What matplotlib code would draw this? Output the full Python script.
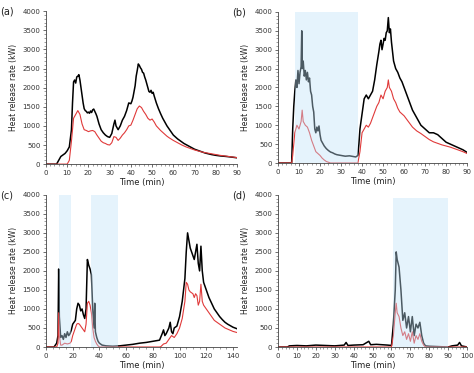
import matplotlib
matplotlib.use("Agg")
import matplotlib.pyplot as plt
from matplotlib.ticker import MultipleLocator, AutoMinorLocator

# (a) tiempo y HRR
ta_negro = [0, 5, 6, 7, 8, 9, 10, 11, 12, 12.5, 13, 13.5, 14, 14.5, 15, 15.5, 16, 16.5, 17, 17.5, 18, 18.5, 19,
            19.5, 20, 20.5, 21, 21.5, 22, 22.5, 23, 23.5, 24, 25, 26, 27, 28, 29, 30, 31, 32, 32.5, 33, 34, 35, 36,
            37, 38, 39, 40, 40.5, 41, 41.5, 42, 42.5, 43, 43.5, 44, 44.5, 45, 45.5, 46, 46.5, 47, 47.5, 48, 48.5,
            49, 49.5, 50, 50.5, 51, 52, 53, 54, 55, 56, 57, 58, 60, 62, 65, 68, 70, 72, 75, 78, 80, 82, 85, 88, 90]
a_negro = [0, 0, 100, 200, 240, 280, 350, 450, 900, 1600, 2150, 2200, 2120, 2280, 2300, 2340, 2200, 2000, 1800, 1600,
           1450, 1400, 1380, 1340, 1360, 1330, 1390, 1350, 1420, 1440, 1380, 1320, 1250, 1050, 900, 820, 760, 720,
           700, 800, 1050, 1150, 1000, 900, 1000, 1150, 1250, 1400, 1600, 1580, 1650, 1750, 1900, 2050, 2300, 2450,
           2620, 2580, 2520, 2480, 2400, 2380, 2280, 2200, 2100, 2000, 1900, 1880, 1930, 1850, 1880, 1780, 1600,
           1450, 1320, 1200, 1100, 1000, 920, 760, 660, 540, 450, 390, 350, 290, 250, 230, 215, 200, 180, 165]
ta_rojo = [0, 10, 11, 12, 13, 14, 15, 16, 17, 18, 19, 20, 21, 22, 23, 24, 25, 26, 27, 28, 29, 30, 31, 32, 33, 34, 35,
           36, 37, 38, 39, 40, 41, 42, 43, 44, 45, 46, 47, 48, 49, 50, 51, 52, 53, 54, 55, 56, 57, 58, 60, 62, 64,
           66, 68, 70, 72, 74, 76, 78, 80, 82, 84, 86, 88, 90]
a_rojo = [0, 0, 100, 600, 1200, 1300, 1400, 1300, 1050, 900, 880, 850, 870, 880, 850, 760, 680, 600, 560, 540, 510,
          500, 560, 720, 700, 620, 680, 760, 820, 900, 1000, 1020, 1150, 1300, 1450, 1520, 1480, 1380, 1300, 1200,
          1150, 1180, 1100, 1000, 940, 880, 830, 780, 730, 690, 620, 560, 500, 450, 410, 370, 340, 310, 290, 270,
          250, 230, 215, 200, 185, 170]

# (b)
tb_negro = [0, 6.5, 7, 7.5, 8, 8.5, 9, 9.5, 10, 10.5, 11, 11.3, 11.6, 12, 12.5, 13, 13.5, 14, 14.5, 15, 15.5, 16,
            16.5, 17, 17.5, 18, 18.5, 19, 19.5, 20, 20.5, 21, 22, 23, 24, 25, 26, 27, 28, 30, 32, 34, 36, 37, 38,
            38.5, 39, 40, 41, 42, 43, 44, 45, 46, 47, 48, 48.5, 49, 49.5, 50, 50.5, 51, 51.5, 52, 52.5, 53, 53.5,
            54, 55, 56, 57, 58, 59, 60, 62, 64, 66, 68, 70, 72, 74, 76, 78, 80, 82, 84, 86, 88, 90]
b_negro = [0, 0, 900, 1500, 1900, 2200, 2000, 2450, 2100, 2400, 2550, 3500, 2500, 2700, 2300, 2450, 2200, 2400, 2150,
           2250, 1900, 1800, 1500, 1350, 900, 800, 950, 850, 980, 750, 600, 550, 450, 380, 330, 290, 270, 240, 220,
           200, 180, 190, 170, 160, 200, 500, 900, 1300, 1700, 1800, 1700, 1800, 1900, 2200, 2600, 2950, 3150, 3250,
           3000, 3150, 3300, 3250, 3450, 3500, 3850, 3450, 3550, 3200, 2700, 2500, 2400, 2250, 2150, 2000, 1700,
           1400, 1200, 1000, 900, 800, 800, 750, 650, 550, 500, 450, 400, 350, 280]
tb_rojo = [0, 6.5, 7, 8, 9, 10, 11, 11.5, 12, 13, 14, 15, 16, 17, 18, 19, 20, 21, 22, 23, 24, 25, 38, 39, 40, 41, 42,
           43, 44, 45, 46, 47, 48, 49, 50, 51, 52, 52.5, 53, 54, 55, 56, 57, 58, 60, 62, 64, 66, 68, 70, 72, 74, 76,
           78, 80, 82, 84, 86, 88, 90]
b_rojo = [0, 0, 200, 800, 1000, 900, 1100, 1400, 1100, 1000, 950, 800, 600, 450, 300, 250, 200, 130, 80, 40, 20, 0, 0,
          300, 800, 900, 1000, 950, 1050, 1200, 1350, 1500, 1600, 1800, 1700, 1900, 2000, 2200, 2000, 1900, 1700,
          1600, 1450, 1350, 1250, 1100, 950, 850, 780, 700, 620, 560, 520, 480, 450, 420, 380, 340, 300, 250]

# (c)
tc_negro = [0, 6, 7, 8, 9, 9.5, 10, 11, 12, 13, 14, 15, 16, 17, 18, 19, 20, 21, 22, 23, 24, 25, 26, 27, 28, 29, 30,
            31, 32, 33, 34, 35, 36, 36.5, 37, 38, 39, 40, 42, 45, 50, 55, 60, 65, 70, 75, 80, 85, 87, 88, 89, 90,
            92, 93, 94, 95, 96, 98, 100, 102, 104, 105, 106, 107, 108, 109, 110, 111, 112, 113, 114, 115, 116, 117,
            118, 119, 120, 122, 124, 126, 128, 130, 132, 134, 136, 138, 140, 143]
c_negro = [0, 0, 50, 100, 300, 2050, 800, 250, 300, 200, 350, 250, 400, 300, 350, 450, 600, 650, 700, 1000, 1150,
           1100, 950, 1000, 850, 750, 1000, 2300, 2150, 2050, 1900, 1000, 500, 1150, 400, 250, 150, 100, 50, 30, 20,
           30, 50, 70, 100, 120, 150, 180, 350, 450, 300, 350, 500, 650, 400, 350, 500, 550, 800, 1200, 1800, 2500,
           3000, 2800, 2600, 2500, 2400, 2300, 2500, 2700, 2200, 2000, 2650, 2000, 1700, 1600, 1500, 1300, 1150,
           1000, 900, 800, 720, 650, 600, 560, 520, 480]
tc_rojo = [0, 8, 9, 9.5, 10, 11, 12, 14, 16, 18, 19, 20, 21, 22, 23, 24, 25, 26, 27, 28, 29, 30, 31, 32, 33, 34, 35,
           36, 37, 38, 39, 40, 85, 86, 88, 90, 92, 94, 96, 98, 100, 102, 104, 105, 106, 107, 108, 110, 111, 112, 113,
           114, 115, 116, 117, 118, 120, 122, 124, 126, 128, 130, 132, 134, 136, 138, 140, 143]
c_rojo = [0, 0, 100, 900, 300, 50, 50, 100, 80, 100, 150, 300, 400, 500, 600, 620, 600, 550, 500, 450, 400, 600, 1150,
          1200, 1100, 900, 500, 250, 150, 80, 30, 0, 0, 10, 80, 100, 200, 300, 250, 350, 500, 750, 1200, 1700, 1650,
          1500, 1450, 1400, 1300, 1400, 1350, 1100, 1200, 1650, 1200, 1100, 1000, 900, 800, 700, 650, 600, 550, 500,
          470, 440, 410, 380]

# (d)
td_negro = [0, 5, 6, 10, 15, 20, 25, 30, 35, 36, 37, 40, 45, 48, 49, 52, 55, 58, 60, 61, 62, 62.5, 63, 64, 65, 66,
            67, 68, 69, 70, 71, 72, 73, 74, 75, 76, 77, 78, 80, 85, 90, 92, 95, 96, 97, 100]
d_negro = [0, 0, 30, 40, 30, 50, 40, 30, 50, 120, 40, 50, 60, 150, 60, 70, 60, 50, 40, 600, 1500, 2500, 2300, 2100,
           1500, 700, 900, 500, 800, 400, 800, 300, 600, 500, 650, 300, 100, 30, 20, 10, 0, 30, 50, 120, 30, 0]
td_rojo = [0, 60, 61, 62, 62.5, 63, 64, 65, 66, 67, 68, 69, 70, 71, 72, 73, 74, 75, 76, 77, 78, 100]
d_rojo = [0, 0, 300, 900, 1150, 900, 800, 500, 300, 400, 200, 350, 150, 400, 100, 300, 200, 350, 150, 50, 0, 0]

# zonas sombreadas (inicio, fin, tope)
zonas_b = [(8, 38, 4000)]
zonas_c = [(10, 19, 4000), (34, 54, 4000)]
zonas_d = [(61, 90, 3920)]

fig = plt.figure(figsize=(4.74, 3.73), dpi=100)

paneles = [
    ("(a)", [0.097, 0.560, 0.403, 0.410], ta_negro, a_negro, ta_rojo, a_rojo, [], 90, 10, 2),
    ("(b)", [0.5865, 0.563, 0.399, 0.405], tb_negro, b_negro, tb_rojo, b_rojo, zonas_b, 90, 10, 2),
    ("(c)", [0.097, 0.0697, 0.403, 0.408], tc_negro, c_negro, tc_rojo, c_rojo, zonas_c, 143, 20, 5),
    ("(d)", [0.5865, 0.0697, 0.399, 0.408], td_negro, d_negro, td_rojo, d_rojo, zonas_d, 100, 10, 2),
]

for letra, pos, tn, yn, tr, yr, zonas, xmax, paso, menor in paneles:
    ax = fig.add_axes(pos)
    ax.plot(tn, yn, color="black", lw=1.1, zorder=2)
    ax.plot(tr, yr, color="#e03a3a", lw=0.8, zorder=2)
    # sombreado por encima de las lineas
    for x0, x1, tope in zonas:
        ax.fill_between([x0, x1], 0, tope, color="#c0e2f8", alpha=0.4, lw=0, zorder=3)
    ax.set_xlim(0, xmax)
    ax.set_ylim(0, 4000)
    ax.xaxis.set_major_locator(MultipleLocator(paso))
    ax.xaxis.set_minor_locator(MultipleLocator(menor))
    ax.yaxis.set_major_locator(MultipleLocator(500))
    ax.yaxis.set_minor_locator(AutoMinorLocator(5))
    ax.spines["top"].set_visible(False)
    ax.spines["right"].set_visible(False)
    for s in ["left", "bottom"]:
        ax.spines[s].set_linewidth(0.6)
        ax.spines[s].set_color("#444444")
    ax.tick_params(which="major", direction="out", length=2.5, width=0.5, labelsize=5, colors="#333333", pad=1.5)
    ax.tick_params(which="minor", direction="out", length=1.3, width=0.4, colors="#555555")
    ax.set_xlabel("Time (min)", fontsize=6, labelpad=2, color="#222222")
    ax.set_ylabel("Heat release rate (kW)", fontsize=5.5, labelpad=3, color="#222222")
    fig.text(pos[0] - 0.097, pos[1] + pos[3] + 0.012, letra, fontsize=7, color="#222222", va="top")

fig.savefig("out.png", dpi=100)
